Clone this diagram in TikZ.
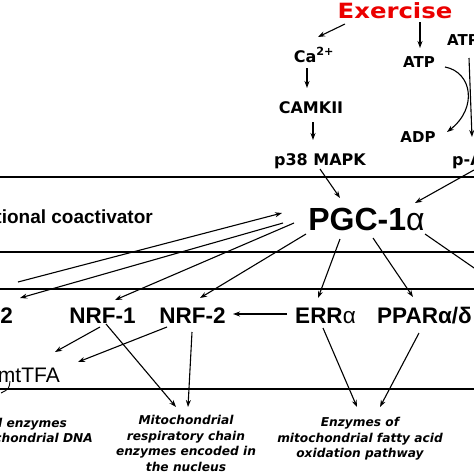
\documentclass[tikz,border=0pt]{standalone}
\usepackage{fontspec}
\setmainfont{Liberation Sans}
\newfontfamily\dvs{DejaVu Sans}
\usetikzlibrary{arrows.meta}
\definecolor{exred}{RGB}{235,0,0}
\begin{document}
\begin{tikzpicture}[x=1pt,y=-1pt,
  arr/.style={-{Stealth[length=7pt,width=5pt]}, line width=1.1pt},
  plain/.style={line width=1.1pt},
  toplab/.style={font=\dvs\bfseries\fontsize{16}{16}\selectfont, inner sep=0pt, anchor=base},
  smalltop/.style={font=\dvs\bfseries\fontsize{15}{15}\selectfont, inner sep=0pt, anchor=base},
  midlab/.style={font=\bfseries\fontsize{22.5}{22.5}\selectfont, inner sep=0pt, anchor=base},
  outlab/.style={font=\dvs\bfseries\itshape\fontsize{12.2}{15.7}\selectfont, align=center, inner sep=0pt, anchor=north},
  band/.style={line width=1.8pt}]
\useasboundingbox (0,0) rectangle (474,474);
\clip (0,0) rectangle (474,474);
\fill[white] (0,0) rectangle (474,474);

% band lines
\draw[band] (-5,177) -- (480,177);
\draw[band] (-5,252) -- (480,252);
\draw[band] (-5,289) -- (480,289);
\draw[band] (-5,389) -- (480,389);

% top nodes
\node[toplab, text=exred, font=\dvs\bfseries\fontsize{21}{21}\selectfont] (ex) at (395,18) {\scalebox{1.16}[1]{Exercise}};
\node[toplab] (ca) at (314,62) {Ca\textsuperscript{2+}};
\node[toplab] (camk) at (311,113) {CAMKII};
\node[toplab] (p38) at (320,165) {p38 MAPK};
\node[smalltop] (atp1) at (419,67) {ATP};
\node[smalltop] (adp) at (418,142) {ADP};
\node[smalltop, anchor=base west] (atp2) at (447,45) {ATP};
\node[toplab, anchor=base west] (pampk) at (452,165) {p-AMPK};

% middle
\node[inner sep=0pt, anchor=base, font=\bfseries\fontsize{32}{32}\selectfont] (pgc) at (366.5,230) {PGC-1{\mdseries α}};
\node[inner sep=0pt, anchor=base east, font=\bfseries\fontsize{19}{19}\selectfont] (coact) at (153,223) {Transcriptional coactivator};

% lower row
\node[midlab, anchor=base east] (mef) at (13,323) {MEF2};
\node[midlab] (nrf1) at (102.5,323) {NRF-1};
\node[midlab] (nrf2) at (192.5,323) {NRF-2};
\node[midlab] (err) at (325.5,323) {ERR{\mdseries α}};
\node[midlab] (ppar) at (424.5,323) {PPARα/δ};
\node[inner sep=0pt, anchor=base east, font=\fontsize{21}{21}\selectfont] (mttfa) at (60,382) {mtTFA};

% outcome labels
\node[outlab, anchor=base east] (lefta) at (67,427) {Mitochondrial enzymes};
\node[outlab, anchor=base east] (leftb) at (93,442) {encoded in mitochondrial DNA};
\node[outlab] (resp) at (186,415) {Mitochondrial\\respiratory chain\\enzymes encoded in\\the nucleus};
\node[outlab] (fatty) at (360,417) {Enzymes of\\mitochondrial fatty acid\\oxidation pathway};

% top arrows
\draw[arr] ([shift={(-50,6)}]ex.base) -- ([shift={(4,-25)}]ca.base);
\draw[arr] ([shift={(25,4)}]ex.base) -- ([shift={(1,-19)}]atp1.base);
\draw[arr] ([shift={(-7,6)}]ca.base) -- ([shift={(-4,-25)}]camk.base);
\draw[arr] ([shift={(2,9)}]camk.base) -- ([shift={(-7,-25)}]p38.base);
\draw[arr] ([shift={(26,0)}]atp1.base) .. controls (472,72) and (478,108) .. ([shift={(29,-10)}]adp.base);
\draw[arr] ([shift={(22,13)}]atp2.base west) -- ([shift={(20,-28)}]pampk.base west);
\draw[arr] ([shift={(0,4)}]p38.base) -- ([shift={(-26.5,-32)}]pgc.base);
\draw[arr] ([shift={(22,5)}]pampk.base west) -- ([shift={(48.5,-27)}]pgc.base);

% PGC arrows
\draw[arr] ([shift={(5,-41)}]mef.base east) -- ([shift={(-84.5,-17)}]pgc.base);
\draw[arr] ([shift={(-83.5,-7)}]pgc.base) -- ([shift={(7,-25)}]mef.base east);
\draw[arr] ([shift={(-72.5,-7)}]pgc.base) -- ([shift={(12.5,-23)}]nrf1.base);
\draw[arr] ([shift={(-60.5,4)}]pgc.base) -- ([shift={(7.5,-25)}]nrf2.base);
\draw[arr] ([shift={(-26.5,9)}]pgc.base) -- ([shift={(-7.5,-25)}]err.base);
\draw[arr] ([shift={(6.5,8)}]pgc.base) -- ([shift={(-11.5,-26)}]ppar.base);
\coordinate (offright) at (490,279);
\draw[plain] ([shift={(58.5,4)}]pgc.base) -- (offright);

% lower arrows
\draw[arr] ([shift={(-38.5,-9)}]err.base) -- ([shift={(40.5,-9)}]nrf2.base);
\draw[arr] ([shift={(-2.5,4)}]nrf1.base) -- ([shift={(-5,-30)}]mttfa.base east);
\draw[arr] ([shift={(-25.5,4)}]nrf2.base) -- ([shift={(18,-20)}]mttfa.base east);
\draw[arr] ([shift={(3.5,1)}]nrf1.base) -- ([shift={(-10,-8)}]resp.north);
\draw[arr] ([shift={(-0.5,9)}]nrf2.base) -- ([shift={(2,-8)}]resp.north);
\draw[arr] ([shift={(-2.5,5)}]err.base) -- ([shift={(-3,-10)}]fatty.north);
\draw[arr] ([shift={(-5.5,10)}]ppar.base) -- ([shift={(20,-10)}]fatty.north);

% small hook at left edge
\coordinate (hookend) at (1,393);
\draw[line width=0.9pt] ([shift={(-50,-1)}]mttfa.base east) .. controls (9,389) .. (hookend);
\end{tikzpicture}
\end{document}
